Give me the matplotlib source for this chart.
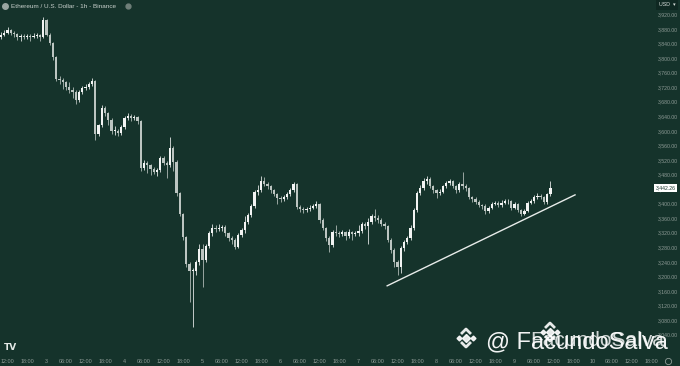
import matplotlib
matplotlib.use("Agg")
import matplotlib.pyplot as plt
import numpy as np

# ETH/USD 1h candles (Binance), first candle = day 2, 10:00
first_open = 3858
closes = [3864, 3869, 3877, 3869, 3866, 3858, 3861, 3858, 3861, 3858,
          3861, 3864, 3858, 3905, 3864, 3842, 3803, 3743, 3740, 3734,
          3721, 3713, 3707, 3685, 3707, 3718, 3721, 3729, 3737, 3591,
          3616, 3663, 3649, 3630, 3600, 3600, 3594, 3611, 3635, 3641,
          3635, 3638, 3627, 3498, 3512, 3506, 3495, 3487, 3492, 3525,
          3512, 3506, 3553, 3514, 3429, 3371, 3308, 3234, 3215, 3215,
          3240, 3275, 3245, 3283, 3319, 3333, 3330, 3333, 3336, 3319,
          3305, 3300, 3281, 3314, 3327, 3349, 3369, 3393, 3432, 3437,
          3462, 3454, 3448, 3437, 3426, 3415, 3413, 3418, 3426, 3437,
          3454, 3391, 3385, 3382, 3385, 3388, 3393, 3399, 3355, 3333,
          3305, 3286, 3322, 3319, 3316, 3322, 3311, 3322, 3316, 3319,
          3325, 3344, 3338, 3349, 3366, 3360, 3355, 3344, 3338, 3300,
          3272, 3240, 3226, 3278, 3294, 3305, 3333, 3382, 3429, 3443,
          3462, 3468, 3448, 3437, 3429, 3432, 3448, 3457, 3462, 3448,
          3437, 3454, 3448, 3443, 3418, 3413, 3404, 3396, 3393, 3380,
          3388, 3399, 3402, 3396, 3402, 3407, 3407, 3388, 3399, 3382,
          3371, 3380, 3402, 3407, 3418, 3421, 3418, 3404, 3426, 3442.26]
highs = [3872, 3878, 3885, 3880, 3874, 3869, 3866, 3866, 3867, 3865,
         3868, 3870, 3867, 3912, 3908, 3868, 3845, 3806, 3752, 3745,
         3738, 3735, 3720, 3712, 3712, 3722, 3728, 3735, 3745, 3740,
         3620, 3672, 3668, 3652, 3635, 3612, 3606, 3616, 3640, 3648,
         3645, 3644, 3642, 3630, 3520, 3518, 3510, 3500, 3498, 3530,
         3530, 3518, 3583, 3558, 3520, 3432, 3375, 3312, 3240, 3222,
         3245, 3290, 3290, 3290, 3325, 3345, 3340, 3345, 3342, 3340,
         3322, 3310, 3305, 3320, 3332, 3365, 3375, 3398, 3438, 3450,
         3475, 3472, 3460, 3452, 3440, 3430, 3420, 3424, 3432, 3442,
         3460, 3458, 3396, 3390, 3392, 3395, 3400, 3408, 3402, 3360,
         3336, 3310, 3328, 3340, 3326, 3328, 3326, 3330, 3326, 3324,
         3340, 3350, 3350, 3360, 3372, 3385, 3368, 3360, 3350, 3342,
         3305, 3278, 3245, 3284, 3300, 3312, 3340, 3388, 3435, 3450,
         3470, 3475, 3472, 3452, 3440, 3440, 3452, 3462, 3468, 3466,
         3452, 3460, 3488, 3455, 3446, 3422, 3418, 3410, 3400, 3398,
         3394, 3405, 3408, 3407, 3410, 3412, 3414, 3410, 3404, 3402,
         3385, 3386, 3408, 3414, 3424, 3428, 3426, 3422, 3430, 3462]
lows = [3852, 3860, 3866, 3864, 3858, 3850, 3848, 3852, 3853, 3846,
        3854, 3855, 3848, 3855, 3860, 3835, 3796, 3738, 3728, 3715,
        3712, 3705, 3690, 3675, 3680, 3700, 3712, 3716, 3724, 3575,
        3585, 3610, 3640, 3615, 3590, 3588, 3585, 3588, 3606, 3630,
        3628, 3630, 3620, 3490, 3492, 3485, 3478, 3480, 3475, 3486,
        3505, 3470, 3500, 3490, 3420, 3365, 3300, 3225, 3130, 3061,
        3205, 3232, 3171, 3240, 3278, 3312, 3322, 3325, 3326, 3312,
        3298, 3290, 3276, 3278, 3308, 3320, 3344, 3362, 3388, 3425,
        3432, 3448, 3440, 3430, 3420, 3400, 3405, 3408, 3412, 3420,
        3432, 3385, 3378, 3375, 3378, 3380, 3384, 3388, 3348, 3328,
        3296, 3268, 3282, 3312, 3308, 3310, 3300, 3306, 3300, 3310,
        3312, 3320, 3330, 3290, 3344, 3352, 3348, 3338, 3330, 3294,
        3265, 3225, 3205, 3210, 3270, 3290, 3300, 3328, 3378, 3425,
        3438, 3455, 3442, 3430, 3415, 3425, 3428, 3444, 3450, 3442,
        3430, 3432, 3440, 3436, 3412, 3405, 3398, 3390, 3386, 3372,
        3375, 3384, 3395, 3390, 3392, 3398, 3400, 3382, 3384, 3376,
        3365, 3368, 3376, 3398, 3402, 3414, 3412, 3398, 3400, 3422]

price_ticks = list(range(3040, 3921, 40))
time_labels = ["12:00", "18:00"]
for day in range(3, 11):
    time_labels += [str(day), "06:00", "12:00", "18:00"]

# trendline drawn on the chart (candle index, price)
trend_idx = [118.8, 176.6]
trend_price = [3174, 3424]

BG = "#15332b"
UP = "#f2f4f3"
DOWN = "#bcc5c1"
GRAY = "#8f9c97"
SMALL = "Liberation Sans"

opens = [first_open] + closes[:-1]
idx = np.arange(len(closes))
o = np.array(opens, dtype=float)
c = np.array(closes, dtype=float)
colors = np.where(c >= o, UP, DOWN)

fig = plt.figure(figsize=(6.8, 3.66), dpi=100)
fig.patch.set_facecolor(BG)

ax = fig.add_axes([0, 13 / 366, 655 / 680, 353 / 366])
ax.set_facecolor(BG)
ax.set_xlim(-0.31, 201.2)
ax.set_ylim(2989.3, 3959.7)

ax.vlines(idx, lows, highs, colors=colors, linewidth=0.55, zorder=2)
ax.bar(idx, np.maximum(np.abs(c - o), 1.5), bottom=np.minimum(o, c),
       width=0.72, color=colors, linewidth=0, zorder=3)

ax.plot(trend_idx, trend_price, color="#e8ecea", linewidth=1.0, zorder=4)

for s in ax.spines.values():
    s.set_visible(False)

ax.set_xticks(2 + 6 * np.arange(len(time_labels)), time_labels)
ax.tick_params(axis="x", length=0, pad=4.5, labelsize=3.9, labelcolor=GRAY)
ax.yaxis.tick_right()
ax.set_yticks(price_ticks, [f"{p:,.2f}" for p in price_ticks])
ax.tick_params(axis="y", length=0, pad=2, labelsize=3.7, labelcolor=GRAY)
for lab in ax.get_xticklabels() + ax.get_yticklabels():
    lab.set_family(SMALL)

last = closes[-1]
ax.text(1.001, last, f"{last:,.2f}", transform=ax.get_yaxis_transform(),
        ha="left", va="center", fontsize=3.7, color=BG, family=SMALL,
        bbox=dict(boxstyle="square,pad=0.3", fc="white", ec="none"))

# overlay in pixel coords for header / logos / watermark
ov = fig.add_axes([0, 0, 1, 1])
ov.set_xlim(0, 680)
ov.set_ylim(366, 0)
ov.axis("off")
ov.patch.set_alpha(0)

ov.plot(5, 6, "o", ms=4, color="#9aa6a1")
ov.text(11, 6, "Ethereum / U.S. Dollar - 1h - Binance", fontsize=4.6,
        color="#c9d1cd", va="center", family=SMALL)
ov.plot(128, 6, "o", ms=3.5, color="#6f7f79")
ov.text(667, 5, "USD  \u25be", fontsize=3.8, ha="center", va="center",
        color="#d8dedb", family=["Liberation Sans", "DejaVu Sans"],
        bbox=dict(boxstyle="square,pad=0.45", fc="#0f2822", ec="none"))

ov.text(4, 348, "TV", fontsize=6.5, fontweight="bold", color="#e3e8e6",
        va="center")
ov.plot(668, 361, "o", ms=4.5, mfc="none", mec=GRAY, mew=0.6)

# Binance Square watermark
for cx, cy in [(466, 338), (550, 332)]:
    ov.plot(cx, cy, "D", ms=4, color="white", alpha=0.9)
    ov.plot([cx - 7, cx + 7], [cy, cy], "D", ms=2.5, color="white", alpha=0.9)
    ov.plot([cx - 4, cx, cx + 4], [cy + 5, cy + 9, cy + 5], color="white",
            lw=2, alpha=0.9)
    ov.plot([cx - 4, cx, cx + 4], [cy - 5, cy - 9, cy - 5], color="white",
            lw=2, alpha=0.9)
ov.text(486, 342, "@ FacundoSalva", fontsize=17, color="white",
        family="Liberation Sans", va="center", alpha=0.95)
ov.text(530, 340, "FacundoSalva", fontsize=15, color="white",
        family="Liberation Sans", va="center", alpha=0.8)

fig.savefig("out.png", dpi=100, facecolor=BG)
